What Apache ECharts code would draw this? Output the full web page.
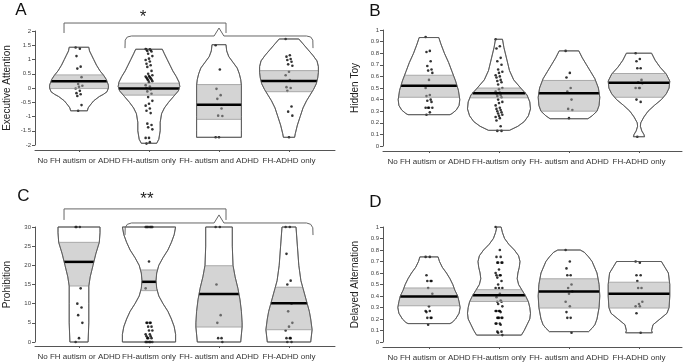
<!DOCTYPE html>
<html>
<head>
<meta charset="utf-8">
<script src="https://cdn.jsdelivr.net/npm/echarts@6/dist/echarts.min.js"></script>
<style>
  html, body { margin: 0; padding: 0; background: #fff; }
  #chart { width: 685px; height: 364px; }
</style>
</head>
<body>
<div id="chart"></div>
<script>
const groups = ['No FH autism or ADHD', 'FH-autism only', 'FH- autism and ADHD', 'FH-ADHD only'];

// A - Executive Attention
const attnPoints = [
  [1.42, 1.38, 1.12, 0.75, 0.68, 0.38, 0.14, 0.08, 0.04, -0.02, -0.1, -0.18, -0.22, -0.28, -0.6, -0.8],
  [1.37, 1.36, 1.35, 1.33, 1.3, 1.28, 1.2, 1.12, 1.03, 0.98, 0.93, 0.85, 0.8, 0.74, 0.6, 0.5, 0.45, 0.42, 0.4, 0.38,
   0.36, 0.34, 0.32, 0.3, 0.27, 0.24, 0.2, 0.1, 0.05, 0.0, -0.05, -0.12, -0.2, -0.32, -0.45, -0.55, -0.62, -0.72,
   -0.8, -0.88, -1.25, -1.3, -1.38, -1.45, -1.75, -1.75, -1.9, -1.95],
  [1.5, 0.65, -0.03, -0.25, -0.38, -0.72, -0.97, -0.98, -1.73, -1.73],
  [1.72, 1.15, 1.1, 1.02, 0.98, 0.92, 0.83, 0.78, 0.57, 0.45, 0.28, 0.03, 0.0, -0.1, -0.65, -0.83, -0.97, -1.73]
];
const attnMean = [0.24, -0.02, -0.59, 0.25];
const attnLow = [-0.02, -0.25, -1.1, -0.13];
const attnHigh = [0.46, 0.17, 0.12, 0.61];
const attnShape = [
  [[1.43, 0.14], [1.3, 0.15], [1.15, 0.18], [1.0, 0.21], [0.8, 0.25], [0.6, 0.3], [0.45, 0.35], [0.3, 0.39], [0.1, 0.42],
   [0.0, 0.42], [-0.13, 0.4], [-0.22, 0.35], [-0.3, 0.29], [-0.45, 0.21], [-0.6, 0.16], [-0.7, 0.13], [-0.8, 0.12]],
  [[1.36, 0.19], [1.2, 0.22], [1.0, 0.26], [0.8, 0.3], [0.6, 0.34], [0.4, 0.39], [0.2, 0.43], [0.05, 0.44], [-0.1, 0.42],
   [-0.3, 0.35], [-0.5, 0.28], [-0.7, 0.22], [-0.9, 0.18], [-1.2, 0.16], [-1.5, 0.16], [-1.8, 0.14], [-1.94, 0.11]],
  [[1.52, 0.1], [1.3, 0.11], [1.1, 0.14], [0.9, 0.2], [0.7, 0.26], [0.5, 0.29], [0.3, 0.31], [0.1, 0.32],
   [-0.5, 0.32], [-1.0, 0.32], [-1.5, 0.32], [-1.73, 0.32]],
  [[1.72, 0.14], [1.55, 0.2], [1.35, 0.27], [1.15, 0.34], [0.95, 0.4], [0.75, 0.42], [0.55, 0.42], [0.35, 0.41],
   [0.15, 0.39], [-0.05, 0.35], [-0.25, 0.3], [-0.45, 0.25], [-0.7, 0.2], [-1.0, 0.16], [-1.3, 0.12], [-1.6, 0.09], [-1.73, 0.08]]
];
const attnBracket = [[0.786, 1.93], [0.786, 2.28], [3.1, 2.28], [3.1, 1.93]];
const attnBrace = [[1.657, 1.4], [1.66, 1.68], [1.69, 1.79], [1.75, 1.825], [2.93, 1.825], [3.0, 2.105], [3.07, 1.825],
  [4.25, 1.825], [4.31, 1.79], [4.34, 1.68], [4.343, 1.4]];
const attnStar = [1.914, 2.47];

// B - Hidden Toy
const toyPoints = [
  [0.94, 0.82, 0.81, 0.73, 0.69, 0.66, 0.65, 0.63, 0.57, 0.5, 0.44, 0.43, 0.4, 0.39, 0.38, 0.33, 0.33, 0.33, 0.33, 0.29, 0.27],
  [0.92, 0.86, 0.84, 0.76, 0.73, 0.7, 0.66, 0.64, 0.63, 0.61, 0.6, 0.59, 0.57, 0.56, 0.55, 0.53, 0.5, 0.49, 0.47, 0.46,
   0.45, 0.44, 0.43, 0.42, 0.4, 0.38, 0.37, 0.35, 0.33, 0.32, 0.31, 0.3, 0.29, 0.28, 0.27, 0.26, 0.25, 0.24, 0.22, 0.17, 0.13, 0.13],
  [0.82, 0.63, 0.59, 0.5, 0.47, 0.4, 0.32, 0.31, 0.24],
  [0.8, 0.75, 0.73, 0.67, 0.67, 0.57, 0.55, 0.54, 0.5, 0.5, 0.5, 0.4, 0.38, 0.08]
];
const toyMean = [0.52, 0.455, 0.455, 0.545];
const toyLow = [0.42, 0.415, 0.3, 0.42];
const toyHigh = [0.61, 0.5, 0.565, 0.625];
const toyShape = [
  [[0.935, 0.14], [0.88, 0.17], [0.8, 0.22], [0.72, 0.28], [0.64, 0.33], [0.56, 0.38], [0.48, 0.42], [0.4, 0.44],
   [0.35, 0.43], [0.31, 0.39], [0.28, 0.33], [0.27, 0.3]],
  [[0.92, 0.05], [0.85, 0.07], [0.75, 0.11], [0.65, 0.15], [0.57, 0.21], [0.5, 0.31], [0.44, 0.4], [0.38, 0.44],
   [0.32, 0.45], [0.26, 0.42], [0.21, 0.36], [0.17, 0.27], [0.135, 0.15]],
  [[0.82, 0.14], [0.76, 0.19], [0.7, 0.25], [0.64, 0.31], [0.58, 0.37], [0.5, 0.42], [0.42, 0.44], [0.35, 0.43],
   [0.3, 0.4], [0.26, 0.33], [0.235, 0.27]],
  [[0.8, 0.18], [0.74, 0.23], [0.68, 0.3], [0.62, 0.39], [0.56, 0.44], [0.5, 0.43], [0.45, 0.39], [0.4, 0.32],
   [0.35, 0.22], [0.3, 0.13], [0.25, 0.07], [0.2, 0.025], [0.17, 0.02], [0.13, 0.04], [0.1, 0.07], [0.08, 0.08]]
];

// C - Prohibition
const prohibPoints = [
  [30, 30, 30, 14, 10, 9, 7, 5, 1, 0],
  [30, 30, 30, 30, 30, 30, 30, 30, 21, 14, 5, 5, 5, 5, 4, 4, 3, 3, 2, 2, 1.5, 1.5, 1, 1, 1, 0, 0, 0, 0, 0, 0, 0],
  [30, 30, 15, 7, 5, 1, 1, 0],
  [30, 30, 23, 16, 15, 10, 8, 5, 4, 3, 1, 1, 1, 0, 0]
];
const prohibMean = [20.9, 15.7, 12.5, 10.1];
const prohibLow = [14.6, 13.4, 3.9, 3.2];
const prohibHigh = [26, 18.8, 19.9, 14.3];
const prohibShape = [
  [[30, 0.3], [28.5, 0.3], [26, 0.29], [23, 0.24], [20, 0.2], [17, 0.16], [14.6, 0.14], [10, 0.14], [5, 0.14], [0, 0.13]],
  [[30, 0.38], [28, 0.36], [26, 0.32], [24, 0.27], [22, 0.2], [20, 0.14], [18, 0.11], [16, 0.1], [14, 0.11],
   [12, 0.14], [10, 0.2], [8, 0.27], [6, 0.32], [4, 0.36], [2, 0.38], [0, 0.38]],
  [[30, 0.19], [25, 0.19], [20, 0.2], [17, 0.23], [14, 0.27], [11, 0.3], [8, 0.32], [5, 0.33], [3.9, 0.33], [0, 0.31]],
  [[30, 0.1], [25, 0.12], [20, 0.14], [16, 0.17], [14, 0.2], [12, 0.23], [10, 0.26], [8, 0.29], [6, 0.31], [3.2, 0.33], [0, 0.31]]
];
const prohibBracket = [[0.786, 31.84], [0.786, 34.72], [3.1, 34.72], [3.1, 31.84]];
const prohibBrace = [[1.657, 27.9], [1.66, 29.8], [1.69, 30.7], [1.75, 31.05], [2.93, 31.05], [3.0, 33.15], [3.07, 31.05],
  [4.25, 31.05], [4.31, 30.7], [4.34, 29.8], [4.343, 27.9]];
const prohibStar = [1.97, 37.2];

// D - Delayed Alternation
const delayPoints = [
  [0.74, 0.74, 0.58, 0.53, 0.53, 0.53, 0.47, 0.42, 0.31, 0.27, 0.27, 0.26, 0.21, 0.21, 0.21, 0.15],
  [1.0, 0.8, 0.74, 0.74, 0.69, 0.69, 0.69, 0.69, 0.63, 0.6, 0.58, 0.58, 0.58, 0.56, 0.53, 0.5, 0.47, 0.47, 0.47,
   0.42, 0.39, 0.36, 0.35, 0.35, 0.33, 0.31, 0.27, 0.27, 0.27, 0.27, 0.26, 0.21, 0.21, 0.21, 0.21, 0.21,
   0.16, 0.16, 0.16, 0.15, 0.09, 0.09, 0.08, 0.06],
  [0.8, 0.7, 0.64, 0.58, 0.58, 0.5, 0.47, 0.44, 0.42, 0.35, 0.31, 0.26, 0.21, 0.21, 0.08],
  [0.7, 0.69, 0.58, 0.58, 0.53, 0.47, 0.47, 0.35, 0.33, 0.31, 0.31, 0.25, 0.08]
];
const delayMean = [0.395, 0.406, 0.44, 0.42];
const delayLow = [0.315, 0.352, 0.295, 0.295];
const delayHigh = [0.47, 0.455, 0.55, 0.52];
const delayShape = [
  [[0.74, 0.13], [0.7, 0.15], [0.65, 0.19], [0.6, 0.25], [0.55, 0.3], [0.5, 0.34], [0.45, 0.37], [0.4, 0.41],
   [0.35, 0.43], [0.3, 0.445], [0.25, 0.43], [0.2, 0.38], [0.17, 0.33], [0.16, 0.3]],
  [[1.0, 0.03], [0.95, 0.05], [0.9, 0.08], [0.85, 0.14], [0.8, 0.22], [0.75, 0.28], [0.7, 0.3], [0.65, 0.29],
   [0.6, 0.27], [0.55, 0.26], [0.5, 0.28], [0.45, 0.33], [0.4, 0.38], [0.35, 0.42], [0.3, 0.44], [0.25, 0.45],
   [0.2, 0.44], [0.15, 0.4], [0.1, 0.36], [0.06, 0.32]],
  [[0.8, 0.16], [0.78, 0.22], [0.74, 0.28], [0.7, 0.33], [0.6, 0.4], [0.5, 0.43], [0.4, 0.44], [0.3, 0.43],
   [0.2, 0.4], [0.15, 0.37], [0.12, 0.33], [0.09, 0.28]],
  [[0.7, 0.32], [0.65, 0.37], [0.6, 0.42], [0.5, 0.44], [0.4, 0.44], [0.3, 0.43], [0.25, 0.4], [0.2, 0.3],
   [0.15, 0.2], [0.1, 0.18], [0.08, 0.19]]
];

const FONT = 'Liberation Sans';

// half width of a bean at value v (linear between the outline rows)
function widthAt(shape, v) {
  for (let i = 0; i < shape.length - 1; i++) {
    const a = shape[i], b = shape[i + 1];
    if (v <= a[0] && v >= b[0]) {
      const t = (a[0] - v) / ((a[0] - b[0]) || 1);
      return a[1] + (b[1] - a[1]) * t;
    }
  }
  return v > shape[0][0] ? shape[0][1] : shape[shape.length - 1][1];
}

function outline(api, c, shape) {
  const right = shape.map(p => api.coord([c + p[1], p[0]]));
  const left = shape.slice().reverse().map(p => api.coord([c - p[1], p[0]]));
  return right.concat(left);
}

function beanSeries(g, shapes) {
  return {
    type: 'custom', xAxisIndex: g, yAxisIndex: g, z: 1, silent: true,
    data: shapes.map((s, i) => [i + 1, s[0][0]]),
    renderItem: (params, api) => ({
      type: 'polygon',
      shape: {points: outline(api, params.dataIndex + 1, shapes[params.dataIndex])},
      style: {fill: '#fff', stroke: '#555', lineWidth: 0.8}
    })
  };
}

function jitter(k) {
  return (((k * 5) % 9) - 4) * 0.012;
}

function pointSeries(g, pts) {
  const data = [];
  pts.forEach((vals, i) => vals.forEach((v, k) => data.push([i + 1 + jitter(k), v])));
  return {
    type: 'scatter', xAxisIndex: g, yAxisIndex: g, z: 2, silent: true,
    symbolSize: 2.6, itemStyle: {color: '#000'}, data: data
  };
}

function infSeries(g, shapes, means, lows, highs) {
  return {
    type: 'custom', xAxisIndex: g, yAxisIndex: g, z: 3, silent: true,
    data: means.map((m, i) => [i + 1, m]),
    renderItem: (params, api) => {
      const i = params.dataIndex, c = i + 1, s = shapes[i];
      const lo = lows[i], hi = highs[i];
      const seg = [[hi, widthAt(s, hi)]].concat(s.filter(p => p[0] < hi && p[0] > lo), [[lo, widthAt(s, lo)]]);
      const across = (v, style) => {
        const w = widthAt(s, v);
        const a = api.coord([c - w, v]), b = api.coord([c + w, v]);
        return {type: 'line', shape: {x1: a[0], y1: a[1], x2: b[0], y2: b[1]}, style: style};
      };
      return {
        type: 'group', children: [
          {type: 'polygon', shape: {points: outline(api, c, seg)}, style: {fill: 'rgba(165,165,165,0.48)'}},
          across(hi, {stroke: '#999', lineWidth: 0.8}),
          across(lo, {stroke: '#999', lineWidth: 0.8}),
          across(means[i], {stroke: '#000', lineWidth: 2.5}),
          {type: 'polygon', shape: {points: outline(api, c, s)}, style: {fill: 'none', stroke: '#555', lineWidth: 0.8}}
        ]
      };
    }
  };
}

function bracketSeries(g, bracket, brace, star, stars) {
  return {
    type: 'custom', xAxisIndex: g, yAxisIndex: g, z: 5, silent: true, clip: false,
    data: [star],
    renderItem: (params, api) => {
      const p = api.coord(star);
      return {
        type: 'group', children: [
          {type: 'polyline', shape: {points: bracket.map(q => api.coord(q))}, style: {stroke: '#666', lineWidth: 1, fill: null}},
          {type: 'polyline', shape: {points: brace.map(q => api.coord(q))}, style: {stroke: '#666', lineWidth: 1, fill: null}},
          {type: 'text', x: p[0], y: p[1], style: {text: stars, font: '17px ' + FONT, textAlign: 'center', textVerticalAlign: 'middle', fill: '#222'}}
        ]
      };
    }
  };
}

const panels = [
  {left: 35, top: 31, width: 300, height: 114, xmin: 0.3714, off: 5, ymin: -2, ymax: 2, step: 0.5, name: 'Executive Attention'},
  {left: 383, top: 30, width: 299, height: 116, xmin: 0.343, off: 5, ymin: 0, ymax: 1, step: 0.1, name: 'Hidden Toy'},
  {left: 35, top: 227, width: 300, height: 115, xmin: 0.3714, off: 4, ymin: 0, ymax: 30, step: 5, name: 'Prohibition'},
  {left: 383, top: 227, width: 299, height: 115, xmin: 0.343, off: 5, ymin: 0, ymax: 1, step: 0.1, name: 'Delayed Alternation'}
];

const option = {
  animation: false,
  backgroundColor: '#fff',
  grid: panels.map(p => ({left: p.left, top: p.top, width: p.width, height: p.height})),
  xAxis: panels.map((p, g) => ({
    gridIndex: g, type: 'value', min: p.xmin, max: p.xmin + p.width / 70, offset: p.off,
    axisLine: {show: true, onZero: false, lineStyle: {color: '#555', width: 1}},
    axisTick: {show: true, customValues: [1, 2, 3, 4], length: 2, lineStyle: {color: '#555'}},
    axisLabel: {customValues: [1, 2, 3, 4], formatter: v => groups[Math.round(v) - 1],
      fontSize: 8, color: '#333', margin: 7, fontFamily: FONT},
    splitLine: {show: false}
  })),
  yAxis: panels.map((p, g) => ({
    gridIndex: g, type: 'value', min: p.ymin, max: p.ymax, interval: p.step,
    name: p.name, nameLocation: 'middle', nameGap: 23,
    nameTextStyle: {fontSize: 10, color: '#222', fontFamily: FONT},
    axisLine: {show: true, onZero: false, lineStyle: {color: '#555', width: 1}},
    axisTick: {show: true, length: 3, lineStyle: {color: '#555'}},
    axisLabel: {fontSize: 6, color: '#444', margin: 4, fontFamily: FONT},
    splitLine: {show: false}
  })),
  graphic: [
    {type: 'text', style: {text: 'A', x: 21, y: 10, font: '17px ' + FONT, textAlign: 'center', textVerticalAlign: 'middle', fill: '#111'}},
    {type: 'text', style: {text: 'B', x: 375, y: 11, font: '17px ' + FONT, textAlign: 'center', textVerticalAlign: 'middle', fill: '#111'}},
    {type: 'text', style: {text: 'C', x: 23.5, y: 196, font: '17px ' + FONT, textAlign: 'center', textVerticalAlign: 'middle', fill: '#111'}},
    {type: 'text', style: {text: 'D', x: 375.5, y: 202, font: '17px ' + FONT, textAlign: 'center', textVerticalAlign: 'middle', fill: '#111'}}
  ],
  series: [
    beanSeries(0, attnShape), pointSeries(0, attnPoints), infSeries(0, attnShape, attnMean, attnLow, attnHigh),
    bracketSeries(0, attnBracket, attnBrace, attnStar, '*'),
    beanSeries(1, toyShape), pointSeries(1, toyPoints), infSeries(1, toyShape, toyMean, toyLow, toyHigh),
    beanSeries(2, prohibShape), pointSeries(2, prohibPoints), infSeries(2, prohibShape, prohibMean, prohibLow, prohibHigh),
    bracketSeries(2, prohibBracket, prohibBrace, prohibStar, '**'),
    beanSeries(3, delayShape), pointSeries(3, delayPoints), infSeries(3, delayShape, delayMean, delayLow, delayHigh)
  ]
};

const chart = echarts.init(document.getElementById('chart'), null, {renderer: 'canvas'});
chart.setOption(option);
</script>
</body>
</html>
